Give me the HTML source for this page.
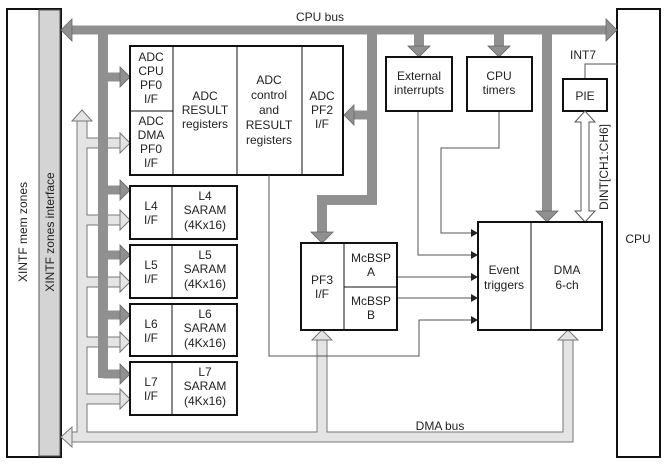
<!DOCTYPE html>
<html><head><meta charset="utf-8"><style>
html,body{margin:0;padding:0;background:#fff;}
svg{display:block;font-family:"Liberation Sans",sans-serif;}
text{font-size:12px;fill:#222;text-anchor:middle;}
</style></head><body>
<svg width="670" height="464" viewBox="0 0 670 464" xmlns="http://www.w3.org/2000/svg">
<!-- Left XINTF -->
<rect x="7" y="9" width="54" height="448" fill="#fff" stroke="#111" stroke-width="2"/>
<rect x="39" y="10" width="21" height="446" fill="#d4d4d4" stroke="#555" stroke-width="1"/>
<text transform="translate(27,232) rotate(-90)">XINTF mem zones</text>
<text transform="translate(54,232) rotate(-90)">XINTF zones interface</text>
<!-- CPU -->
<rect x="617" y="9" width="43" height="448" fill="#fff" stroke="#111" stroke-width="2"/>
<text x="638" y="243">CPU</text>

<!-- DMA bus (light) -->
<g fill="none" stroke-linejoin="miter">
<g stroke="#777" stroke-width="11">
<path d="M70 437 H568 V338"/>
<path d="M82 120 V437"/>
<path d="M82 143 H122 M82 220 H122 M82 282 H122 M82 342 H122 M82 399 H122"/>
<path d="M322 437 V338"/>
</g>
<g stroke="#e4e4e4" stroke-width="9">
<path d="M70 437 H568 V338"/>
<path d="M82 120 V437"/>
<path d="M82 143 H122 M82 220 H122 M82 282 H122 M82 342 H122 M82 399 H122"/>
<path d="M322 437 V338"/>
</g>
</g>
<g fill="#e4e4e4" stroke="#777" stroke-width="1">
<polygon points="61,437 72,427 72,447"/>
<polygon points="82,110 72,121 92,121"/>
<polygon points="568,330 558,340 578,340"/>
<polygon points="322,330 312,340 332,340"/>
<polygon points="130,143 120,133 120,153"/>
<polygon points="130,220 120,210 120,230"/>
<polygon points="130,282 120,272 120,292"/>
<polygon points="130,342 120,332 120,352"/>
<polygon points="130,399 120,389 120,409"/>
</g>
<text x="440" y="430">DMA bus</text>

<!-- CPU bus (dark gray) -->
<g fill="none" stroke="#909090">
<path d="M70 30 H610" stroke-width="9"/>
<path d="M103 30 V378" stroke-width="10"/>
<path d="M103 77 H122 M103 190 H122 M103 255 H122 M103 315 H122 M103 374 H122" stroke-width="9"/>
<path d="M372 30 V200 H322 V236" stroke-width="10"/>
<path d="M372 115 H352" stroke-width="9"/>
<path d="M419 30 V48 M499 30 V48" stroke-width="10"/>
<path d="M547 30 V214" stroke-width="10"/>
</g>
<g fill="#909090" stroke="#666" stroke-width="0.8">
<polygon points="61,30 72,19 72,41"/>
<polygon points="617,30 606,19 606,41"/>
<polygon points="130,77 120,67 120,87"/>
<polygon points="130,190 120,180 120,200"/>
<polygon points="130,255 120,245 120,265"/>
<polygon points="130,315 120,305 120,325"/>
<polygon points="130,374 120,364 120,384"/>
<polygon points="344,115 354,105 354,125"/>
<polygon points="322,243 311,232 333,232"/>
<polygon points="419,57 408,46 430,46"/>
<polygon points="499,57 488,46 510,46"/>
<polygon points="547,222 536,211 558,211"/>
</g>
<text x="320" y="21">CPU bus</text>

<!-- ADC block -->
<g fill="#fff" stroke="#111">
<rect x="130" y="46" width="213" height="129" stroke-width="2"/>
<path d="M173 46 V175 M237 46 V175 M302 46 V175 M130 111 H173" stroke-width="1" fill="none"/>
</g>
<text x="151" y="61">ADC</text><text x="151" y="75">CPU</text><text x="151" y="89">PF0</text><text x="151" y="103">I/F</text>
<text x="151" y="125">ADC</text><text x="151" y="139">DMA</text><text x="151" y="153">PF0</text><text x="151" y="167">I/F</text>
<text x="205" y="100">ADC</text><text x="205" y="114">RESULT</text><text x="205" y="128">registers</text>
<text x="269" y="84">ADC</text><text x="269" y="99">control</text><text x="269" y="114">and</text><text x="269" y="129">RESULT</text><text x="269" y="144">registers</text>
<text x="322" y="100">ADC</text><text x="322" y="114">PF2</text><text x="322" y="128">I/F</text>

<!-- L blocks -->
<g fill="#fff" stroke="#111">
<rect x="130" y="186" width="107" height="53" stroke-width="2"/>
<rect x="130" y="245" width="107" height="53" stroke-width="2"/>
<rect x="130" y="304" width="107" height="52" stroke-width="2"/>
<rect x="130" y="362" width="107" height="53" stroke-width="2"/>
<path d="M172 186 V239 M172 245 V298 M172 304 V356 M172 362 V415" stroke-width="1"/>
</g>
<text x="151" y="210">L4</text><text x="151" y="224">I/F</text>
<text x="205" y="200">L4</text><text x="205" y="214">SARAM</text><text x="205" y="229">(4Kx16)</text>
<text x="151" y="269">L5</text><text x="151" y="283">I/F</text>
<text x="205" y="259">L5</text><text x="205" y="273">SARAM</text><text x="205" y="288">(4Kx16)</text>
<text x="151" y="328">L6</text><text x="151" y="342">I/F</text>
<text x="205" y="318">L6</text><text x="205" y="332">SARAM</text><text x="205" y="347">(4Kx16)</text>
<text x="151" y="386">L7</text><text x="151" y="400">I/F</text>
<text x="205" y="376">L7</text><text x="205" y="390">SARAM</text><text x="205" y="405">(4Kx16)</text>

<!-- thin signal lines -->
<g fill="none" stroke="#555" stroke-width="1">
<path d="M499 111 V148 H441 V233 H472"/>
<path d="M418 111 V255 H472"/>
<path d="M397 277 H472"/>
<path d="M397 298 H472"/>
<path d="M269 175 V356 H419 V320 H472"/>
<path d="M585 79 V64 H617"/>
</g>
<g fill="#222">
<polygon points="478,233 471,229 471,237"/>
<polygon points="478,255 471,251 471,259"/>
<polygon points="478,277 471,273 471,281"/>
<polygon points="478,298 471,294 471,302"/>
<polygon points="478,320 471,316 471,324"/>
</g>

<!-- PF3 block -->
<g fill="#fff" stroke="#111">
<rect x="301" y="243" width="96" height="87" stroke-width="2"/>
<path d="M344 243 V330 M344 287 H397" stroke-width="1"/>
</g>
<text x="322" y="284">PF3</text><text x="322" y="298">I/F</text>
<text x="371" y="262">McBSP</text><text x="371" y="276">A</text>
<text x="371" y="305">McBSP</text><text x="371" y="319">B</text>

<!-- External interrupts, CPU timers, PIE -->
<g fill="#fff" stroke="#111" stroke-width="2">
<rect x="386" y="57" width="66" height="54"/>
<rect x="467" y="57" width="65" height="54"/>
<rect x="563" y="79" width="44" height="32"/>
</g>
<text x="419" y="80">External</text><text x="419" y="94">interrupts</text>
<text x="499" y="80">CPU</text><text x="499" y="94">timers</text>
<text x="585" y="100">PIE</text>
<text x="583" y="59">INT7</text>

<!-- DINT double arrow -->
<path d="M585 111 L575 122 L581 122 L581 211 L575 211 L585 222 L595 211 L589 211 L589 122 L595 122 Z" fill="#fff" stroke="#555" stroke-width="1"/>
<text transform="translate(608,167) rotate(-90)">DINT[CH1:CH6]</text>

<!-- Event / DMA -->
<g fill="#fff" stroke="#111">
<rect x="478" y="222" width="124" height="108" stroke-width="2"/>
<path d="M531 222 V330" stroke-width="1"/>
</g>
<text x="504" y="274">Event</text><text x="504" y="289">triggers</text>
<text x="567" y="274">DMA</text><text x="567" y="289">6-ch</text>
</svg>
</body></html>
